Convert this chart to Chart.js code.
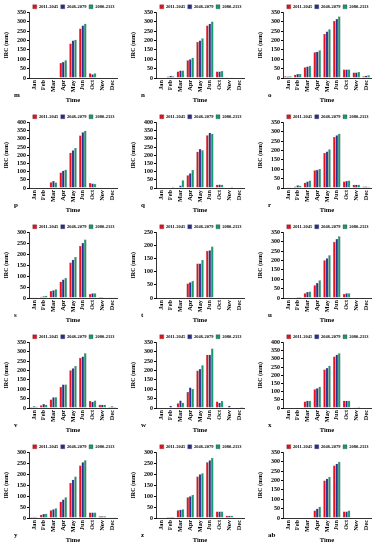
<!DOCTYPE html>
<html>
<head>
<meta charset="utf-8">
<script src="https://cdn.jsdelivr.net/npm/chart.js@4.4.1/dist/chart.umd.min.js"></script>
<style>
  body { margin: 0; background: #fff; }
  #wrap { position: relative; width: 382px; height: 550px; overflow: hidden; }
  .panel { position: absolute; width: 127px; height: 110px; }
  .tag { position: absolute; font: bold 7px "Liberation Serif", serif; color: #000; }
</style>
</head>
<body>
<div id="wrap"></div>
<script>
// IRC (mm) por mes, tres periodos
const months = ["Jan", "Feb", "Mar", "Apr", "May", "Jun", "Oct", "Nov", "Dec"];
const periods = ["2011-2045", "2046-2079", "2080-2113"];
const colors = ["#e8101a", "#2a2e90", "#169a70"];

const panelNames = ["m", "n", "o", "p", "q", "r", "s", "t", "u", "v", "w", "x", "y", "z", "ab"];
const yMax = [350, 350, 350, 400, 400, 350, 300, 250, 350, 350, 350, 400, 300, 300, 350];

const irc_m = [[0, 0, 2, 80, 185, 265, 25, 0, 0], [0, 0, 2, 85, 200, 280, 20, 0, 0], [0, 0, 3, 95, 205, 290, 25, 0, 0]];
const irc_n = [[0, 8, 35, 95, 193, 280, 35, 2, 0], [0, 12, 40, 100, 200, 290, 35, 3, 0], [0, 10, 40, 108, 213, 302, 38, 2, 0]];
const irc_o = [[10, 18, 58, 137, 235, 305, 45, 30, 10], [8, 22, 62, 140, 248, 315, 45, 30, 12], [10, 22, 65, 148, 260, 328, 45, 32, 15]];
const irc_p = [[0, 0, 35, 95, 215, 320, 30, 0, 0], [0, 0, 42, 105, 230, 340, 28, 0, 0], [0, 0, 33, 112, 245, 350, 25, 0, 0]];
const irc_q = [[0, 0, 5, 78, 222, 322, 20, 0, 0], [0, 0, 15, 90, 238, 338, 22, 0, 0], [0, 8, 48, 110, 230, 332, 20, 8, 0]];
const irc_r = [[3, 8, 28, 95, 187, 273, 35, 17, 8], [2, 15, 35, 97, 195, 282, 38, 18, 8], [2, 12, 40, 102, 207, 290, 40, 18, 7]];
const irc_s = [[3, 6, 32, 75, 163, 238, 18, 5, 3], [4, 8, 36, 85, 175, 252, 22, 5, 3], [4, 10, 40, 92, 188, 268, 22, 4, 3]];
const irc_t = [[0, 0, 0, 55, 132, 180, 0, 0, 0], [0, 0, 0, 60, 132, 182, 0, 0, 0], [0, 0, 0, 65, 145, 197, 0, 0, 0]];
const irc_u = [[0, 3, 25, 68, 202, 300, 22, 0, 0], [0, 5, 32, 80, 213, 315, 26, 0, 0], [0, 5, 35, 95, 228, 330, 26, 0, 0]];
const irc_v = [[5, 15, 45, 112, 202, 268, 38, 18, 5], [10, 22, 57, 125, 212, 275, 33, 18, 10], [8, 18, 57, 125, 225, 292, 40, 18, 5]];
const irc_w = [[3, 0, 25, 85, 200, 285, 35, 0, 0], [0, 12, 40, 110, 208, 285, 28, 12, 0], [0, 0, 28, 102, 228, 318, 38, 0, 5]];
const irc_x = [[0, 0, 40, 115, 235, 315, 45, 5, 0], [0, 0, 45, 120, 245, 325, 45, 5, 0], [0, 0, 45, 130, 258, 335, 45, 8, 0]];
const irc_y = [[5, 15, 35, 75, 160, 240, 25, 8, 3], [6, 18, 40, 85, 175, 255, 25, 8, 3], [6, 20, 45, 95, 190, 265, 25, 8, 3]];
const irc_z = [[0, 5, 35, 95, 190, 255, 30, 10, 0], [0, 5, 38, 100, 200, 265, 30, 10, 0], [0, 5, 40, 105, 205, 275, 30, 10, 0]];
const irc_ab = [[0, 0, 0, 40, 200, 280, 35, 0, 0], [0, 0, 0, 50, 210, 290, 35, 0, 0], [0, 0, 0, 60, 220, 300, 40, 0, 0]];

const allData = [irc_m, irc_n, irc_o, irc_p, irc_q, irc_r, irc_s, irc_t, irc_u, irc_v, irc_w, irc_x, irc_y, irc_z, irc_ab];

const colX = [0, 127, 254];
const rowY = [0, 110, 220, 330, 440];
const FAM = '"Liberation Serif", "Times New Roman", serif';
const wrap = document.getElementById("wrap");

// legenda do Chart.js reserva +10px fixos, aqui encolhe um pouco
const tightLegend = {
  id: "tightLegend",
  beforeLayout(chart) {
    const lg = chart.legend;
    if (lg && !lg._tight) {
      const fit = lg.fit.bind(lg);
      lg.fit = function () {
        fit();
        this.height = 10.5;
      };
      lg._tight = true;
    }
  },
};

panelNames.forEach((name, i) => {
  const left = colX[i % 3];
  const top = rowY[Math.floor(i / 3)];

  const canvas = document.createElement("canvas");
  canvas.className = "panel";
  canvas.width = 127;
  canvas.height = 110;
  canvas.style.left = left + "px";
  canvas.style.top = top + "px";
  wrap.appendChild(canvas);

  const tag = document.createElement("div");
  tag.className = "tag";
  tag.textContent = name;
  tag.style.left = (left + 14) + "px";
  tag.style.top = (top + 91) + "px";
  wrap.appendChild(tag);

  new Chart(canvas.getContext("2d"), {
    type: "bar",
    data: {
      labels: months,
      datasets: periods.map((p, k) => ({
        label: p,
        data: allData[i][k],
        backgroundColor: colors[k],
        borderColor: "#333",
        borderWidth: 0.3,
        categoryPercentage: 0.76,
        barPercentage: 1.0,
      })),
    },
    options: {
      responsive: false,
      animation: false,
      devicePixelRatio: 1,
      layout: { padding: { left: 0, right: 10, top: 2, bottom: 6 } },
      plugins: {
        legend: {
          position: "top",
          align: "end",
          labels: {
            boxWidth: 4,
            boxHeight: 4,
            padding: 2.5,
            color: "#000",
            font: { family: FAM, size: 4.5, weight: "bold" },
          },
        },
        tooltip: { enabled: false },
      },
      scales: {
        x: {
          afterFit: (s) => { s.height = 26; },
          grid: { display: false, drawTicks: false },
          border: { display: true, color: "#000", width: 0.8 },
          ticks: {
            autoSkip: false,
            minRotation: 90,
            maxRotation: 90,
            padding: 2,
            color: "#000",
            font: { family: FAM, size: 6.3, weight: "bold" },
          },
          title: {
            display: true,
            text: "Time",
            padding: { top: 1, bottom: 0 },
            color: "#000",
            font: { family: FAM, size: 6.5, weight: "bold" },
          },
        },
        y: {
          min: 0,
          max: yMax[i],
          afterFit: (s) => { s.width = 29; },
          grid: { drawOnChartArea: false, tickLength: 2, color: "#000" },
          border: { display: true, color: "#000", width: 0.8 },
          ticks: {
            autoSkip: false,
            stepSize: 50,
            padding: 1,
            color: "#000",
            font: { family: FAM, size: 6, weight: "bold" },
          },
          title: {
            display: true,
            text: "IRC (mm)",
            padding: { top: 3, bottom: 0 },
            color: "#000",
            font: { family: FAM, size: 6, weight: "bold" },
          },
        },
      },
    },
    plugins: [tightLegend],
  });
});
</script>
</body>
</html>
